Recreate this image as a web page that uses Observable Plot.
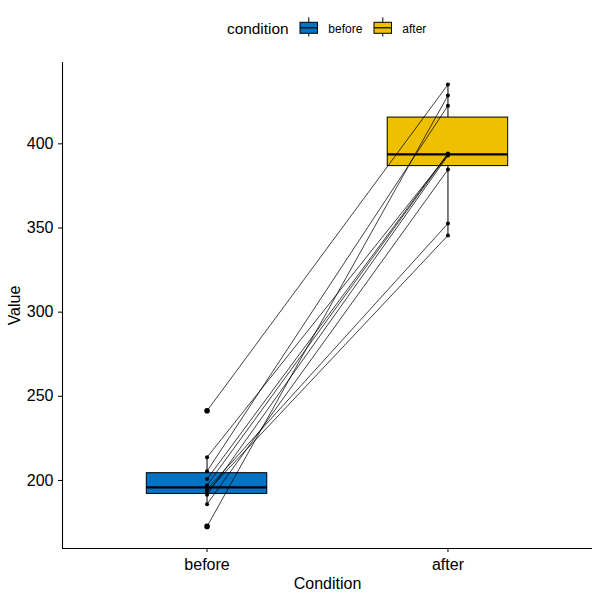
<!DOCTYPE html>
<html><head><meta charset="utf-8">
<script src="https://cdn.jsdelivr.net/npm/d3@7"></script>
<script src="https://cdn.jsdelivr.net/npm/@observablehq/plot@0.6"></script>
<style>
body{margin:0;background:#fff;font-family:"Liberation Sans",Arial,sans-serif;}
#wrap{width:600px;}
#legend,#chart{display:block;}
</style></head><body>
<div id="wrap"><div id="legend"></div><div id="chart"></div></div>
<script>
const conditions = ["before", "after"];
const colors = ["#0073C2", "#EFC000"];
const before = [241.4, 213.8, 205.5, 200.8, 197.2, 194.7, 193.5, 191.5, 185.9, 172.7];
const after  = [435.2, 393.5, 422.7, 394.3, 393.9, 352.7, 345.6, 393.0, 384.7, 428.7];
const yTicks = [200, 250, 300, 350, 400];
const legendTitle = "condition";
const xTitle = "Condition";
const yTitle = "Value";

const rows = [];
before.forEach((v, i) => {
  rows.push({id: i, condition: "before", pos: 1, value: v});
  rows.push({id: i, condition: "after", pos: 2, value: after[i]});
});

function stats(vals, pos, cond) {
  const s = vals.slice().sort(d3.ascending);
  const q1 = d3.quantile(s, 0.25), med = d3.quantile(s, 0.5), q3 = d3.quantile(s, 0.75);
  const iqr = q3 - q1;
  const lo = d3.min(s.filter(v => v >= q1 - 1.5 * iqr));
  const hi = d3.max(s.filter(v => v <= q3 + 1.5 * iqr));
  return {condition: cond, pos, q1, med, q3, lo, hi, outliers: s.filter(v => v < lo || v > hi)};
}
const boxes = [stats(before, 1, "before"), stats(after, 2, "after")];
const outliers = boxes.flatMap(b => b.outliers.map(v => ({pos: b.pos, value: v})));

const all = before.concat(after);
const [mn, mx] = d3.extent(all);
const pad = (mx - mn) * 0.05;
const yDomain = [mn - pad, mx + pad];
const half = 0.25;

const chart = Plot.plot({
  width: 600, height: 550,
  marginTop: 12, marginBottom: 52, marginLeft: 62, marginRight: 8,
  style: {fontFamily: "Liberation Sans, Arial, sans-serif", fontSize: "16px", color: "#000", background: "#fff", overflow: "visible"},
  x: {type: "linear", domain: [0.4, 2.6]},
  y: {domain: yDomain},
  color: {domain: conditions, range: colors},
  marks: [
    Plot.ruleX(boxes, {x: "pos", y1: "lo", y2: "hi", stroke: "#000", strokeWidth: 1}),
    Plot.rect(boxes, {x1: d => d.pos - half, x2: d => d.pos + half, y1: "q1", y2: "q3", fill: "condition", stroke: "#000", strokeWidth: 1}),
    Plot.ruleY(boxes, {x1: d => d.pos - half, x2: d => d.pos + half, y: "med", stroke: "#000", strokeWidth: 2.2}),
    Plot.line(rows, {x: "pos", y: "value", z: "id", stroke: "#000", strokeWidth: 0.75}),
    Plot.dot(outliers, {x: "pos", y: "value", r: 2.8, fill: "#000"}),
    Plot.dot(rows, {x: "pos", y: "value", r: 2, fill: "#000"}),
    Plot.ruleX([0.4], {stroke: "#000", strokeWidth: 1.1}),
    Plot.ruleY([yDomain[0]], {stroke: "#000", strokeWidth: 1.1}),
    Plot.axisX([1, 2], {tickFormat: d => conditions[d - 1], tickSize: 4, tickPadding: 6, label: xTitle, labelAnchor: "center", labelOffset: 40, labelArrow: "none"}),
    Plot.axisY(yTicks, {tickSize: 4, tickPadding: 5, label: yTitle, labelAnchor: "center", labelOffset: 54, labelArrow: "none"})
  ]
});
document.getElementById("chart").appendChild(chart);

// legend
const lg = d3.select("#legend").append("svg").attr("width", 600).attr("height", 50)
  .style("display", "block").style("font-family", "Liberation Sans, Arial, sans-serif");
lg.append("text").attr("x", 227).attr("y", 33.5).attr("font-size", 15.4).attr("fill", "#000").text(legendTitle);
const keyX = [300, 374];
const labX = [328.3, 402.3];
conditions.forEach((c, i) => {
  const g = lg.append("g").attr("transform", `translate(${keyX[i]},0)`);
  g.append("line").attr("x1", 8.8).attr("x2", 8.8).attr("y1", 17.3).attr("y2", 36.5).attr("stroke", "#000").attr("stroke-width", 1);
  g.append("rect").attr("x", 0).attr("y", 22.3).attr("width", 17.5).attr("height", 11).attr("fill", colors[i]).attr("stroke", "#000").attr("stroke-width", 1);
  g.append("line").attr("x1", 0).attr("x2", 17.5).attr("y1", 27.8).attr("y2", 27.8).attr("stroke", "#000").attr("stroke-width", 1.2);
  lg.append("text").attr("x", labX[i]).attr("y", 33.3).attr("font-size", 12).attr("fill", "#000").text(c);
});
</script>
</body></html>
